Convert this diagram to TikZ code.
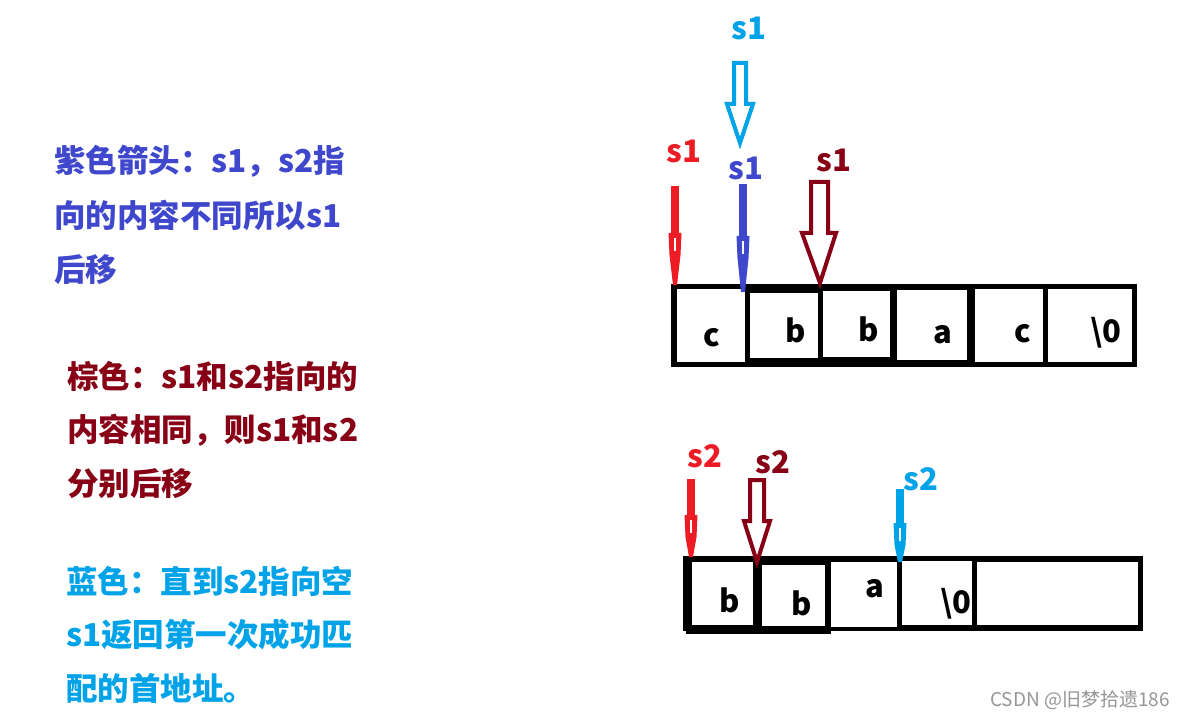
\documentclass[tikz,border=0pt]{standalone}
\usepackage{fontspec}
\newfontfamily\cjk{Noto Sans CJK SC}
\definecolor{pred}{RGB}{237,28,36}
\definecolor{pdark}{RGB}{136,0,21}
\definecolor{pturq}{RGB}{0,162,232}
\definecolor{pindigo}{RGB}{63,72,204}
\definecolor{wmgray}{RGB}{150,150,150}
\newcommand\mythinarrow[6]{% name, color, x, ytop, yhead, ytip
  \coordinate (#1a) at (#3,#4);
  \coordinate (#1b) at (#3,#5+3);
  \coordinate (#1t) at (#3,#6);
  \draw[#2, line width=8pt] (#1a) -- (#1b);
  \fill[#2] (#3-6.5,#5) -- (#3+6.5,#5) -- (#3+5.5,#5+22) -- (#3+2,#6) -- (#3-2,#6) -- (#3-5.5,#5+22) -- cycle;
  \draw[white, line width=1.6pt] (#3,#5+5) -- (#3,#5+18);
}
\begin{document}
\begin{tikzpicture}[x=1pt,y=-1pt,
  txt/.style={inner sep=0pt, anchor=base west, font=\cjk\bfseries\fontsize{31.5}{36}\selectfont},
  lbl/.style={inner sep=0pt, anchor=base, font=\cjk\bfseries\fontsize{31}{36}\selectfont},
  cellch/.style={inner sep=0pt, anchor=base, font=\cjk\bfseries\fontsize{31}{36}\selectfont},
  hollow/.style={line width=4pt, fill=white, line join=miter, miter limit=10}]
\useasboundingbox[fill=white] (0,0) rectangle (1193,719);

% left texts
\node[txt, text=pindigo] (t11) at (54,173) {紫色箭头：s1，s2指};
\node[txt, text=pindigo] (t12) at (54,228) {向的内容不同所以s1};
\node[txt, text=pindigo] (t13) at (54,281) {后移};
\node[txt, text=pdark] (t21) at (67,388) {棕色：s1和s2指向的};
\node[txt, text=pdark] (t22) at (67,441) {内容相同，则s1和s2};
\node[txt, text=pdark] (t23) at (67,495) {分别后移};
\node[txt, text=pturq] (t31) at (66,593) {蓝色：直到s2指向空};
\node[txt, text=pturq] (t32) at (66,646) {s1返回第一次成功匹};
\node[txt, text=pturq] (t33) at (66,700) {配的首地址。};

% top array
\fill[black] (671,284) rectangle (1137,367);
\fill[white] (677,289) rectangle (745,362);
\fill[white] (750,293) rectangle (818,358);
\fill[white] (823,291) rectangle (890,357);
\fill[white] (897,290) rectangle (967,360);
\fill[white] (975,289) rectangle (1043,362);
\fill[white] (1048,289) rectangle (1132,362);
\node[cellch] (a1) at (712,346) {c};
\node[cellch] (a2) at (796,342) {b};
\node[cellch] (a3) at (869,341) {b};
\node[cellch] (a4) at (943,343) {a};
\node[cellch] (a5) at (1023,342) {c};
\node[cellch] (a6) at (1106,342) {\textbackslash 0};

% bottom array
\fill[black] (683,556) rectangle (1143,631);
\fill[black] (686,626) rectangle (831,634);
\fill[white] (692,562) rectangle (753,625);
\fill[white] (762,565) rectangle (825,626);
\fill[white] (831,562) rectangle (897,627);
\fill[white] (902,561) rectangle (972,625);
\fill[white] (977,562) rectangle (1138,625);
\node[cellch] (b1) at (730,612) {b};
\node[cellch] (b2) at (802,615) {b};
\node[cellch] (b3) at (875,597) {a};
\node[cellch] (b4) at (956,613) {\textbackslash 0};

% top labels
\node[lbl, text=pturq] (ls1t) at (749,40) {s1};
\node[lbl, text=pred] (ls1r) at (684,163) {s1};
\node[lbl, text=pindigo] (ls1i) at (746,180) {s1};
\node[lbl, text=pdark] (ls1d) at (834,172) {s1};
% bottom labels
\node[lbl, text=pred] (ls2r) at (705,467) {s2};
\node[lbl, text=pdark] (ls2d) at (773,473) {s2};
\node[lbl, text=pturq] (ls2t) at (921,490) {s2};

% hollow block arrows
\draw[hollow, draw=pturq] (734,63) -- (746,63) -- (746,104) -- (753,104) -- (740,143) -- (727,104) -- (734,104) -- cycle;
\draw[hollow, draw=pdark] (811,182) -- (828,182) -- (828,233) -- (836,233) -- (820,283) -- (802,233) -- (811,233) -- cycle;
\draw[hollow, draw=pdark] (750,480) -- (764,480) -- (764,521) -- (770,521) -- (757,562) -- (744,521) -- (750,521) -- cycle;

% thin arrows
\mythinarrow{ra}{pred}{675}{186}{233}{285}
\mythinarrow{ia}{pindigo}{743}{184}{236}{292}
\mythinarrow{rb}{pred}{691}{479}{515}{557}
\mythinarrow{tb}{pturq}{900}{489}{523}{562}

% watermark
\node[inner sep=0pt, anchor=base west, text=wmgray, font=\cjk\fontsize{19}{22}\selectfont] (wm) at (990,706) {CSDN @旧梦拾遗186};
\end{tikzpicture}
\end{document}
